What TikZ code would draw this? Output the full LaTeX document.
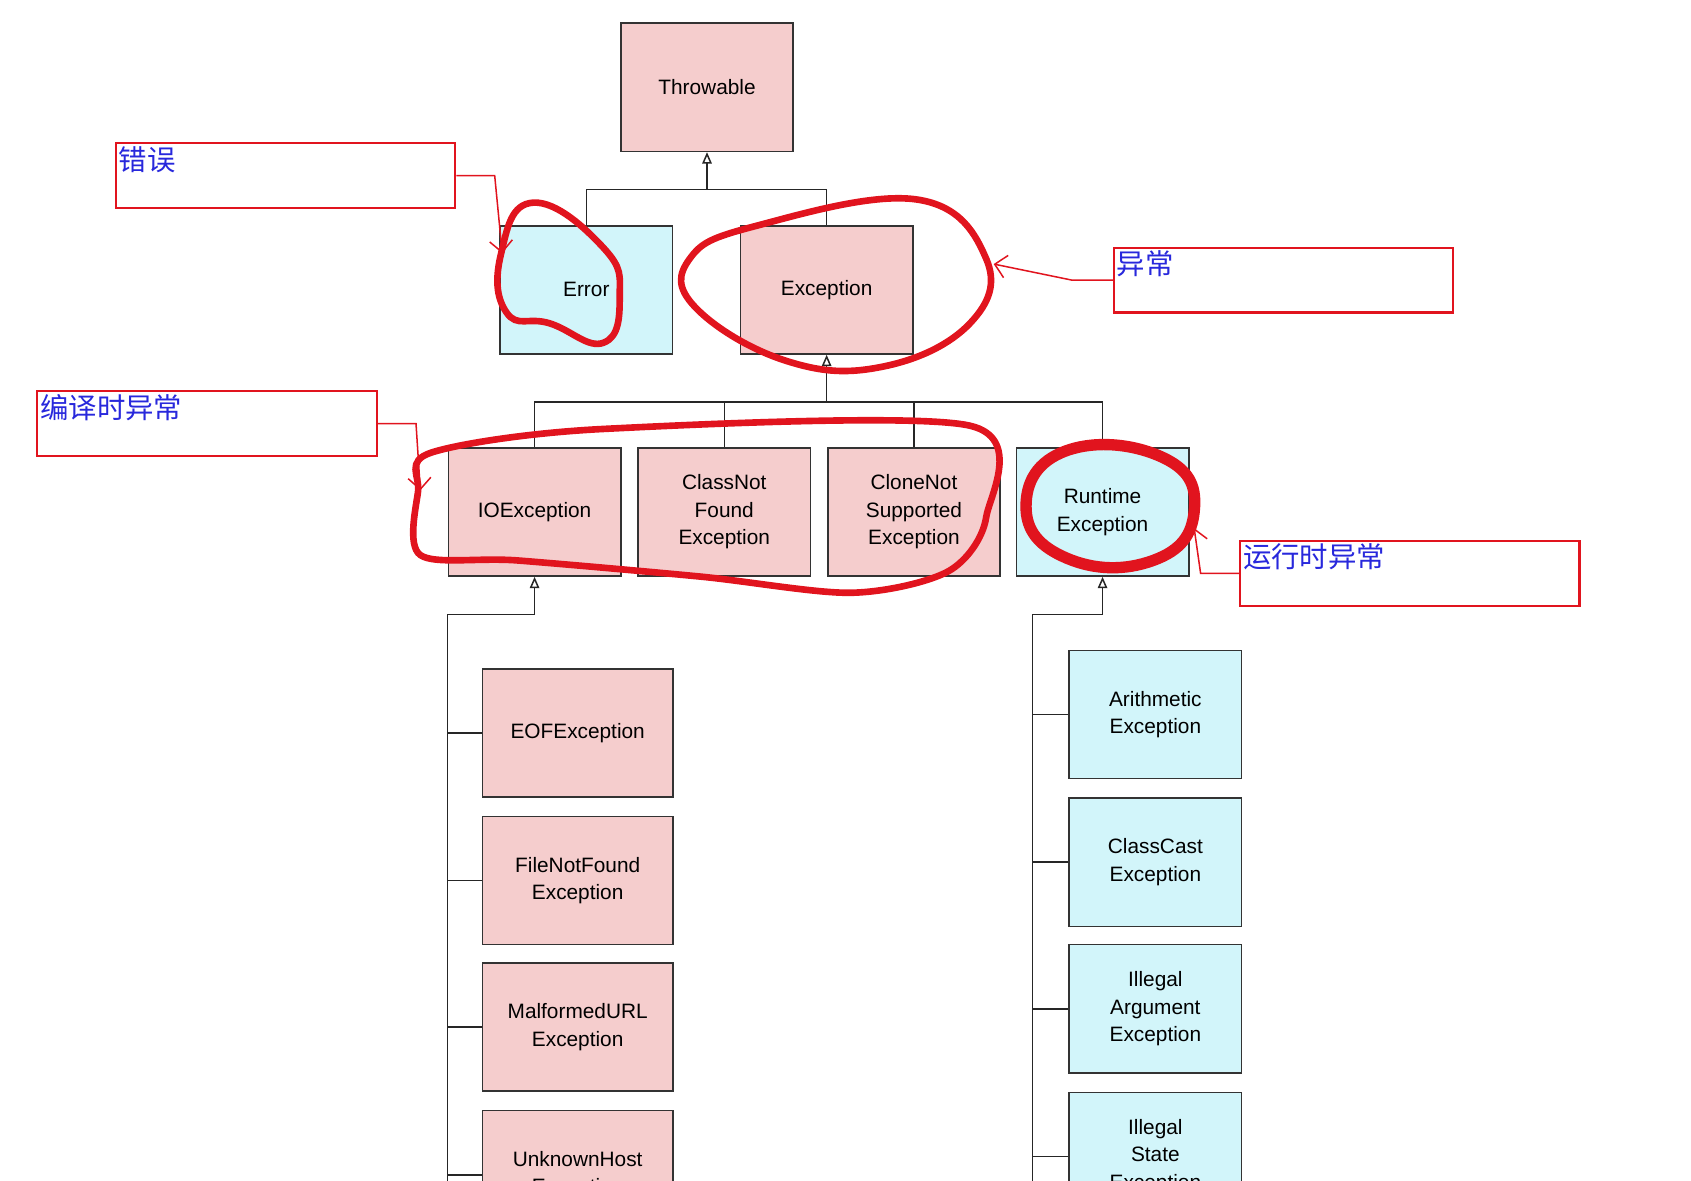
\documentclass[tikz,border=0pt]{standalone}
\usepackage{fontspec}
\setmainfont{Liberation Sans}
\newfontfamily\cjk{Noto Sans CJK SC}
\usetikzlibrary{arrows.meta,positioning}
\definecolor{boxpink}{RGB}{245,205,205}
\definecolor{boxcyan}{RGB}{210,245,250}
\definecolor{notered}{RGB}{225,20,30}
\definecolor{noteblue}{RGB}{40,40,220}
\begin{document}
\begin{tikzpicture}[x=0.02cm, y=-0.02cm,
		base/.style={draw=black!80, thick, minimum width=3.2cm, minimum height=2.38cm,
			align=center, font=\fontsize{11}{14.5}\selectfont, inner sep=1pt},
		pinkbox/.style={base, fill=boxpink},
		cyanbox/.style={base, fill=boxcyan},
		tree/.style={draw=black!85, thick},
		up/.style={tree, -{Triangle[open, length=6pt, width=5pt]}},
		note/.style={draw=notered, very thick, minimum width=6.3cm, minimum height=1.2cm},
		notetext/.style={text=noteblue, font=\cjk\fontsize{15}{17}\selectfont, anchor=north west, inner sep=2pt},
		notelink/.style={draw=notered, thick, -{Straight Barb[length=6pt]}},
		scribble/.style={draw=notered, line width=3.5pt}
	]
	\useasboundingbox (0,0) rectangle (1569,1095);
	\clip (0,0) rectangle (1569,1095);

	% hierarchy boxes
	\node[pinkbox] at (656,81) (throwable) {Throwable};
	\node[cyanbox] at (544,269) (error) {Error};
	\node[pinkbox] at (767,269) (exception) {Exception};

	\node[pinkbox] at (496,475) (io) {IOException};
	\node[pinkbox] at (672,475) (cnf) {ClassNot\\Found\\Exception};
	\node[pinkbox] at (848,475) (cns) {CloneNot\\Supported\\Exception};
	\node[cyanbox] at (1023,475) (runtime) {Runtime\\Exception};

	\node[pinkbox, minimum width=3.54cm] at (536,680) (eof) {EOFException};
	\node[pinkbox, minimum width=3.54cm] at (536,817) (fnf) {FileNotFound\\Exception};
	\node[pinkbox, minimum width=3.54cm] at (536,953) (murl) {MalformedURL\\Exception};
	\node[pinkbox, minimum width=3.54cm] at (536,1090) (uhost) {UnknownHost\\Exception};

	\node[cyanbox] at (1072,663) (arith) {Arithmetic\\Exception};
	\node[cyanbox] at (1072,800) (cast) {ClassCast\\Exception};
	\node[cyanbox] at (1072,936) (illarg) {Illegal\\Argument\\Exception};
	\node[cyanbox] at (1072,1073) (illstate) {Illegal\\State\\Exception};

	% tree lines
	\coordinate (topbus) at (656,176);
	\coordinate (midbus) at (767,373);
	\coordinate (iobus) at (415,570);
	\coordinate (rtbus) at (958,570);
	\draw[tree] (error.north) |- (topbus) -| (exception.north);
	\draw[up] (topbus) -- (throwable.south);
	\draw[tree] (io.north) |- (midbus) -| (runtime.north);
	\draw[tree] (cnf.north) -- (cnf.north |- midbus);
	\draw[tree] (cns.north) -- (cns.north |- midbus);
	\draw[up] (midbus) -- (exception.south);

	\draw[tree] (415,1110) -- (iobus) -| (496,552);
	\draw[up] (496,555) -- (io.south);
	\foreach \n in {eof,fnf,murl,uhost}
		\draw[tree] (\n.west) -- (\n.west -| iobus);
	\draw[tree] (958,1110) -- (rtbus) -| (1023,552);
	\draw[up] (1023,555) -- (runtime.south);
	\foreach \n in {arith,cast,illarg,illstate}
		\draw[tree] (\n.west) -- (\n.west -| rtbus);

	% notes
	\node[note] at (265,163) (errnote) {};
	\node[notetext] at (errnote.north west) {错误};
	\node[note] at (1191,260) (excnote) {};
	\node[notetext] at (excnote.north west) {异常};
	\node[note] at (192,393) (compnote) {};
	\node[notetext] at (compnote.north west) {编译时异常};
	\node[note] at (1308,532) (rtnote) {};
	\node[notetext] at (rtnote.north west) {运行时异常};

	\draw[notelink] (errnote.east) -- (459,163) -- (466,235);
	\draw[notelink] (excnote.west) -- (995,260) -- (922,245);
	\draw[notelink] (compnote.east) -- (386,393) -- (390,455);
	\draw[notelink] (rtnote.west) -- (1114,532) -- (1108,490);

	% scribbles
	\draw[scribble] plot[smooth cycle, tension=0.8] coordinates {(495,188) (560,230) (575,275) (560,318) (510,300) (470,290) (465,235)};
	\draw[scribble] plot[smooth cycle, tension=0.7] coordinates {(700,210) (850,185) (915,240) (900,300) (820,340) (730,335) (645,285) (640,240)};
	\draw[scribble] plot[smooth cycle, tension=0.5] coordinates {(400,420) (560,398) (900,395) (915,480) (880,530) (790,550) (650,535) (480,520) (390,515) (388,455)};
	\draw[scribble, line width=6pt] plot[smooth cycle, tension=0.8] coordinates {(990,418) (1080,425) (1108,475) (1070,520) (990,518) (952,470)};
\end{tikzpicture}
\end{document}
